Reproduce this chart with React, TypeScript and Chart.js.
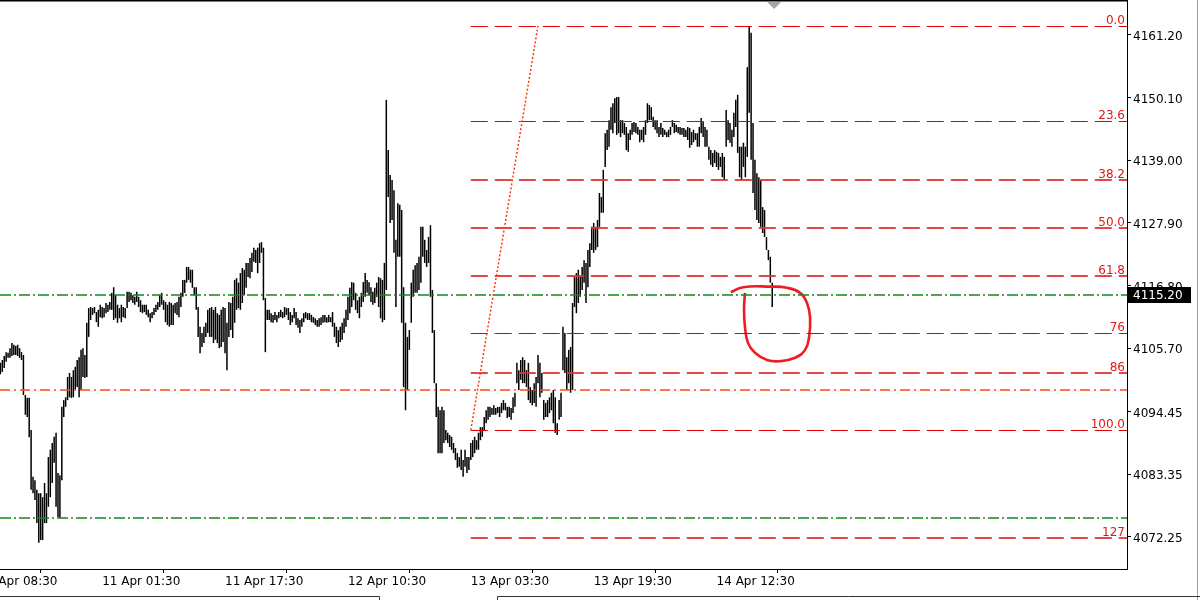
import React, { useEffect, useRef } from 'react';
import { Chart, registerables } from 'chart.js';

Chart.register(...registerables);

// ---- OHLC bars (M15), high and low of each bar ----
const barHighs = [
  4103.1, 4103.6, 4104.3, 4105.0, 4104.9, 4105.7, 4106.6, 4106.3, 4106.1, 4106.3,
  4105.7, 4105.0, 4104.5, 4097.4, 4096.9, 4096.9, 4091.2, 4082.9, 4082.3, 4080.6,
  4080.0, 4080.0, 4079.3, 4081.8, 4080.0, 4086.4, 4087.7, 4088.9, 4090.0, 4090.7,
  4083.6, 4083.2, 4095.3, 4096.5, 4097.0, 4100.6, 4101.3, 4100.6, 4101.8, 4102.4,
  4103.6, 4104.1, 4105.4, 4105.7, 4104.5, 4110.2, 4112.8, 4113.0, 4112.8, 4113.0,
  4112.1, 4112.5, 4113.4, 4113.0, 4112.8, 4113.7, 4113.4, 4113.9, 4115.5, 4116.5,
  4115.1, 4113.4, 4112.8, 4113.4, 4113.0, 4112.8, 4115.7, 4115.7, 4115.5, 4115.1,
  4114.8, 4115.7, 4114.8, 4114.2, 4113.4, 4113.4, 4113.4, 4112.5, 4111.9, 4112.1,
  4112.8, 4113.4, 4113.9, 4115.1, 4115.5, 4114.2, 4113.9, 4113.4, 4113.9, 4113.7,
  4113.4, 4113.7, 4113.9, 4114.8, 4115.5, 4117.8, 4117.8, 4120.1, 4120.1, 4119.6,
  4119.6, 4116.5, 4116.5, 4113.0,
  4109.5, 4108.4, 4109.5, 4110.2, 4112.5, 4112.8, 4113.0, 4112.5, 4113.0, 4111.9,
  4111.6, 4112.5, 4113.0, 4112.8, 4110.2, 4113.9, 4113.7, 4114.8, 4117.8, 4118.1,
  4117.3, 4119.0, 4119.9, 4119.6, 4120.8, 4120.8, 4121.7, 4122.6, 4123.5, 4123.1,
  4123.5, 4124.3, 4124.5, 4123.5, 4114.6, 4112.5, 4112.5, 4111.9, 4111.6, 4112.1,
  4111.6, 4112.1, 4112.5, 4112.1, 4113.0, 4112.8, 4112.8, 4112.1, 4111.6, 4112.8,
  4112.1, 4111.0, 4110.7, 4111.0, 4111.9, 4112.1, 4111.9, 4111.9, 4111.6, 4111.2,
  4111.0, 4110.7, 4111.0, 4111.2, 4111.6, 4111.6, 4111.2, 4111.6, 4111.2, 4112.1,
  4110.2, 4109.5, 4108.9, 4109.5, 4110.2, 4111.0, 4112.5, 4114.8, 4116.4, 4117.4,
  4117.3, 4115.5, 4114.2, 4114.8, 4115.5, 4117.4, 4119.0, 4117.8, 4117.4, 4116.5,
  4115.7, 4116.4, 4117.3, 4118.3, 4118.1, 4117.8,
  4120.8, 4149.7, 4140.8, 4136.4, 4135.5, 4133.7, 4124.9, 4131.4, 4131.1, 4130.2,
  4116.5, 4110.2, 4107.7, 4108.9, 4117.3, 4119.6, 4120.4, 4120.8, 4121.9, 4127.2,
  4127.2, 4124.9, 4123.1, 4125.4, 4127.5, 4116.0, 4108.9, 4099.5, 4095.3, 4094.7,
  4095.3, 4094.7, 4091.2, 4090.7, 4090.3, 4090.0, 4088.9, 4088.0, 4087.1, 4086.4,
  4087.7, 4085.9, 4087.7, 4086.4, 4086.4, 4088.9, 4089.4, 4090.0, 4089.4, 4090.7,
  4091.7, 4091.7, 4093.5, 4094.7, 4095.3, 4095.3, 4095.1, 4095.6, 4095.1, 4095.3,
  4095.3, 4096.0, 4096.5, 4096.0, 4095.3, 4095.3, 4095.1, 4097.0, 4097.8, 4103.1,
  4101.8, 4103.6, 4104.1, 4103.6, 4101.8, 4103.1, 4098.8, 4098.3, 4099.5, 4100.6,
  4104.5, 4103.1, 4101.3, 4096.5, 4096.0, 4096.5, 4097.0, 4097.8, 4098.3, 4097.0,
  4092.4, 4096.5, 4097.8, 4109.5, 4108.4, 4104.1, 4105.4, 4105.9, 4113.7, 4118.3,
  4119.0, 4119.6, 4118.3, 4120.1, 4121.3, 4120.8, 4123.1, 4124.3,
  4127.2, 4127.9, 4127.2, 4128.4, 4133.2, 4132.5, 4137.3, 4143.8, 4144.4, 4146.1,
  4148.4, 4149.1, 4150.0, 4150.2, 4150.2, 4146.1, 4146.1, 4145.6, 4144.9, 4143.8,
  4144.4, 4145.6, 4145.8, 4145.6, 4144.9, 4144.4, 4144.4, 4144.9, 4146.1, 4149.1,
  4148.8, 4148.4, 4146.7, 4146.1, 4146.1, 4144.9, 4145.6, 4144.7, 4144.4, 4144.0,
  4144.4, 4144.9, 4146.1, 4145.6, 4145.3, 4144.9, 4144.9, 4144.7, 4144.7, 4144.4,
  4144.9, 4144.7, 4144.0, 4144.4, 4143.8, 4143.8, 4144.9, 4146.5, 4145.8, 4144.9,
  4144.4, 4141.4, 4140.8, 4140.3, 4140.8, 4140.5, 4140.3, 4139.6, 4140.3, 4139.6,
  4147.9, 4146.1, 4145.6, 4144.4, 4147.4, 4149.7, 4150.6, 4141.4, 4141.4, 4142.1,
  4141.4, 4155.5, 4162.8, 4161.6, 4145.6, 4139.1, 4136.7, 4136.0, 4135.5, 4130.7,
  4130.2, 4125.4, 4123.1, 4121.9, 4117.3,
];

const barLows = [
  4101.1, 4101.5, 4102.2, 4103.3, 4104.0, 4104.0, 4104.3, 4104.5, 4104.5, 4104.3,
  4104.0, 4103.6, 4097.4, 4093.9, 4093.5, 4089.9, 4080.6, 4080.0, 4078.8, 4074.7,
  4071.2, 4071.7, 4071.7, 4074.7, 4074.7, 4077.6, 4079.3, 4081.8, 4085.4, 4077.6,
  4075.8, 4075.6, 4082.3, 4093.5, 4095.3, 4096.5, 4097.0, 4096.9, 4097.0, 4098.3,
  4098.8, 4097.0, 4098.3, 4100.6, 4100.4, 4100.6, 4107.7, 4110.7, 4111.6, 4111.9,
  4110.3, 4109.5, 4111.2, 4111.0, 4111.2, 4111.9, 4112.1, 4112.5, 4112.5, 4110.7,
  4111.0, 4110.2, 4111.0, 4110.3, 4111.2, 4111.0, 4112.8, 4113.9, 4114.2, 4113.7,
  4113.4, 4113.9, 4113.0, 4112.1, 4111.9, 4112.1, 4111.6, 4111.2, 4110.3, 4111.0,
  4111.6, 4112.1, 4112.5, 4113.0, 4113.4, 4112.5, 4110.3, 4109.8, 4109.5, 4109.8,
  4109.8, 4111.9, 4111.6, 4111.2, 4113.0, 4114.8, 4115.5, 4117.3, 4117.8, 4117.3,
  4116.4, 4115.1, 4112.5, 4107.7,
  4104.8, 4105.9, 4106.6, 4107.7, 4108.4, 4107.7, 4107.7, 4106.6, 4107.2, 4106.6,
  4105.7, 4105.9, 4106.8, 4104.8, 4101.8, 4107.7, 4108.9, 4107.5, 4110.2, 4112.5,
  4112.8, 4112.5, 4113.7, 4115.1, 4116.4, 4118.3, 4118.1, 4119.2, 4121.0, 4120.8,
  4119.0, 4120.8, 4122.6, 4114.2, 4105.0, 4110.7, 4110.7, 4110.3, 4110.2, 4110.7,
  4110.3, 4111.0, 4111.2, 4111.0, 4111.2, 4111.6, 4110.7, 4109.8, 4110.3, 4111.0,
  4109.8, 4109.3, 4108.4, 4109.5, 4110.3, 4111.0, 4110.7, 4110.7, 4110.3, 4110.2,
  4109.8, 4109.5, 4109.5, 4109.8, 4110.2, 4110.3, 4110.2, 4110.3, 4110.3, 4109.5,
  4107.7, 4106.6, 4105.9, 4106.8, 4107.2, 4108.4, 4109.5, 4110.7, 4111.9, 4113.0,
  4114.2, 4112.5, 4111.9, 4111.0, 4113.0, 4113.9, 4114.8, 4115.5, 4115.1, 4113.9,
  4113.4, 4113.7, 4114.8, 4113.0, 4111.0, 4110.3,
  4110.7, 4116.0, 4132.5, 4127.9, 4128.4, 4122.6, 4113.0, 4121.9, 4121.9, 4110.2,
  4098.8, 4094.7, 4098.3, 4105.4, 4110.2, 4114.8, 4115.5, 4115.5, 4116.0, 4117.3,
  4121.9, 4120.8, 4120.1, 4120.8, 4114.8, 4108.4, 4099.5, 4093.5, 4087.1, 4087.1,
  4087.1, 4088.9, 4089.4, 4088.9, 4088.2, 4087.7, 4087.1, 4085.9, 4084.5, 4084.7,
  4084.1, 4082.9, 4084.7, 4083.6, 4084.1, 4085.9, 4086.4, 4087.1, 4087.7, 4087.7,
  4089.4, 4090.0, 4091.2, 4092.4, 4093.0, 4093.5, 4093.9, 4093.9, 4093.9, 4094.2,
  4093.5, 4094.2, 4094.7, 4094.7, 4093.3, 4093.5, 4093.0, 4094.2, 4095.3, 4099.5,
  4098.3, 4100.1, 4099.5, 4099.5, 4098.8, 4096.5, 4096.0, 4095.6, 4096.0, 4095.3,
  4099.5, 4097.0, 4097.8, 4093.0, 4093.5, 4093.5, 4094.2, 4094.7, 4092.4, 4090.7,
  4090.3, 4093.0, 4093.5, 4101.8, 4101.3, 4098.3, 4099.5, 4097.8, 4098.3, 4113.0,
  4111.9, 4113.7, 4114.8, 4116.0, 4117.3, 4113.7, 4116.5, 4120.1,
  4123.1, 4122.6, 4123.1, 4123.6, 4127.2, 4129.7, 4129.7, 4137.8, 4140.8, 4141.4,
  4144.4, 4143.8, 4145.6, 4143.5, 4143.8, 4143.1, 4143.8, 4143.5, 4140.8, 4140.5,
  4142.6, 4143.5, 4144.0, 4143.8, 4143.5, 4142.2, 4142.6, 4142.2, 4143.5, 4145.6,
  4146.1, 4146.1, 4144.9, 4144.4, 4143.8, 4143.1, 4143.5, 4143.1, 4143.5, 4143.1,
  4143.1, 4143.5, 4144.9, 4143.8, 4144.0, 4143.8, 4143.5, 4143.5, 4143.1, 4143.1,
  4142.6, 4141.2, 4141.7, 4142.2, 4142.6, 4141.4, 4141.4, 4143.8, 4143.1, 4141.4,
  4141.4, 4139.1, 4138.2, 4137.8, 4138.5, 4137.8, 4137.3, 4137.8, 4136.0, 4135.5,
  4141.4, 4142.6, 4142.1, 4141.4, 4143.1, 4144.9, 4140.3, 4136.0, 4135.5, 4137.8,
  4136.0, 4139.6, 4147.4, 4139.1, 4133.2, 4130.2, 4128.4, 4127.9, 4127.2, 4126.1,
  4125.4, 4123.1, 4121.3, 4117.3, 4113.0,
];

// ---- axes ----
const xTickIndex = [-11, 53, 117, 181, 245, 309, 373];
const xTickLabels = ['10 Apr 08:30', '11 Apr 01:30', '11 Apr 17:30', '12 Apr 10:30', '13 Apr 03:30', '13 Apr 19:30', '14 Apr 12:30'];
const yTickValues = [4161.2, 4150.1, 4139.0, 4127.9, 4116.8, 4105.7, 4094.45, 4083.35, 4072.25];
const yTickLabels = ['4161.20', '4150.10', '4139.00', '4127.90', '4116.80', '4105.70', '4094.45', '4083.35', '4072.25'];
const xRange = [-0.2, 586.77];
const yRange = [4066.57, 4167.22];

// ---- Fibonacci retracement ----
const fibLabels = ['0.0', '23.6', '38.2', '50.0', '61.8', '76', '86', '100.0', '127'];
const fibPrices = [4162.8, 4145.9, 4135.5, 4127.0, 4118.5, 4108.4, 4101.3, 4091.2, 4072.1];
const fibHeavy = [false, false, true, true, true, false, true, false, true];
const fibStartIndex = 245;
const trendIndex = [245, 280];
const trendPrice = [4091.2, 4162.8];

// ---- horizontal lines & current price ----
const bidPrice = 4115.2;
const bidLabel = '4115.20';
const greenLevels = [4115.2, 4075.6];
const orangeLevels = [4098.3];
const shiftMarkerIndex = 403;

// ---- hand-drawn red circle (bar index, price) ----
const circleIdx = [380.4, 386.8, 400.8, 409.7, 416.5, 420.1, 421.7, 421.2, 419.1, 413.9, 406.1, 399.3, 393.0, 389.4, 387.8, 387.3, 387.8];
const circlePrice = [4115.6, 4116.5, 4116.6, 4116.4, 4115.5, 4113.7, 4111.2, 4107.7, 4105.4, 4104.0, 4103.4, 4103.6, 4104.9, 4106.6, 4109.5, 4112.5, 4115.5];

const FONT = '12px "DejaVu Sans"';

const overlayPlugin = {
  id: 'mtOverlay',
  afterDatasetsDraw(chart: any) {
    const { ctx, chartArea: ca, scales } = chart;
    const x = scales.x;
    const y = scales.y;
    ctx.save();
    ctx.beginPath();
    ctx.rect(ca.left, ca.top, ca.right - ca.left, ca.bottom - ca.top);
    ctx.clip();

    const hline = (price: number, color: string, width: number, dash: number[], x0: number) => {
      const py = Math.round(y.getPixelForValue(price)) + (width % 2 === 1 ? 0.5 : 0);
      ctx.beginPath();
      ctx.setLineDash(dash);
      ctx.strokeStyle = color;
      ctx.lineWidth = width;
      ctx.moveTo(x0, py);
      ctx.lineTo(ca.right, py);
      ctx.stroke();
    };

    greenLevels.forEach((p) => hline(p, '#128a12', 1.5, [11, 3, 2, 3], ca.left));
    orangeLevels.forEach((p) => hline(p, '#ff4a14', 1.5, [10, 4, 2, 4], ca.left));

    const fx = x.getPixelForValue(fibStartIndex);
    fibPrices.forEach((p, i) => {
      if (fibHeavy[i]) hline(p, 'rgba(222,52,52,0.9)', 2, [17, 7], fx);
      else hline(p, '#e00000', 1, [17, 7], fx);
    });

    // trend line of the fibo
    ctx.beginPath();
    ctx.setLineDash([2, 2]);
    ctx.strokeStyle = '#ff3a10';
    ctx.lineWidth = 1.5;
    ctx.moveTo(x.getPixelForValue(trendIndex[0]), y.getPixelForValue(trendPrice[0]));
    ctx.lineTo(x.getPixelForValue(trendIndex[1]), y.getPixelForValue(trendPrice[1]));
    ctx.stroke();
    ctx.setLineDash([]);

    // fibo level labels
    ctx.font = FONT;
    ctx.fillStyle = '#e01818';
    ctx.textAlign = 'right';
    ctx.textBaseline = 'alphabetic';
    fibPrices.forEach((p, i) => {
      const py = Math.round(y.getPixelForValue(p));
      ctx.fillText(fibLabels[i], ca.right - 2, py - 2);
    });
    ctx.restore();
  },
  afterDraw(chart: any) {
    const { ctx, chartArea: ca, scales } = chart;
    const x = scales.x;
    const y = scales.y;
    ctx.save();
    // top border of the plot
    ctx.fillStyle = '#000';
    ctx.fillRect(0, 0, ca.right + 1, 1.5);

    // chart shift marker
    const mx = x.getPixelForValue(shiftMarkerIndex);
    ctx.fillStyle = '#a6a6a6';
    ctx.beginPath();
    ctx.moveTo(mx - 7, 2);
    ctx.lineTo(mx + 7, 2);
    ctx.lineTo(mx, 9);
    ctx.closePath();
    ctx.fill();

    // current price box
    const by = Math.round(y.getPixelForValue(bidPrice));
    ctx.fillStyle = '#000';
    ctx.fillRect(ca.right + 1, by - 8, 63, 16);
    ctx.fillStyle = '#fff';
    ctx.font = FONT;
    ctx.textAlign = 'left';
    ctx.textBaseline = 'middle';
    ctx.fillText(bidLabel, ca.right + 6, by + 1);

    // window edge and bottom tabs
    ctx.strokeStyle = '#a0a0a0';
    ctx.lineWidth = 1;
    ctx.beginPath();
    ctx.moveTo(1197.5, 0);
    ctx.lineTo(1197.5, 600);
    ctx.stroke();
    ctx.strokeStyle = '#333';
    ctx.beginPath();
    ctx.moveTo(0, 596.5);
    ctx.lineTo(379.5, 596.5);
    ctx.lineTo(379.5, 600);
    ctx.moveTo(497.5, 600);
    ctx.lineTo(497.5, 596.5);
    ctx.lineTo(1200, 596.5);
    ctx.stroke();
    ctx.restore();
  },
};

export default function App() {
  const ref = useRef<HTMLCanvasElement | null>(null);

  useEffect(() => {
    const canvas = ref.current;
    if (!canvas) return;
    const bars = barHighs.map((h, i) => ({ x: i, y: [barLows[i], h] }));
    const circle = circleIdx.map((v, i) => ({ x: v, y: circlePrice[i] }));
    const tickFont = { family: 'DejaVu Sans', size: 12 };

    const chart = new Chart(canvas, {
      type: 'bar',
      data: {
        datasets: [
          {
            type: 'bar',
            data: bars as any,
            backgroundColor: '#000',
            borderWidth: 0,
            barThickness: 1.5,
            grouped: false,
            inflateAmount: 0,
            order: 2,
          } as any,
          {
            type: 'line',
            data: circle as any,
            borderColor: '#ee1c24',
            borderWidth: 2.6,
            pointRadius: 0,
            tension: 0.45,
            fill: false,
            order: 1,
          } as any,
        ],
      },
      options: {
        animation: false,
        responsive: false,
        devicePixelRatio: 1,
        events: [],
        layout: { padding: { top: 1, left: 0, right: 0, bottom: 0 } },
        plugins: { legend: { display: false }, tooltip: { enabled: false } },
        scales: {
          x: {
            type: 'linear',
            min: xRange[0],
            max: xRange[1],
            offset: false,
            bounds: 'data',
            grid: { display: true, drawOnChartArea: false, drawTicks: true, tickLength: 4, color: '#000' },
            border: { display: true, color: '#000', width: 1 },
            ticks: {
              autoSkip: false,
              maxRotation: 0,
              minRotation: 0,
              align: 'start',
              padding: 2,
              color: '#000',
              font: tickFont,
              callback: (_v: any, i: number) => xTickLabels[i] ?? '',
            },
            afterBuildTicks: (s: any) => {
              s.ticks = xTickIndex.map((v) => ({ value: v }));
            },
            afterFit: (s: any) => {
              s.height = 31;
              s.paddingLeft = 0;
              s.paddingRight = 0;
            },
          } as any,
          y: {
            type: 'linear',
            position: 'right',
            min: yRange[0],
            max: yRange[1],
            bounds: 'data',
            grid: { display: true, drawOnChartArea: false, drawTicks: true, tickLength: 4, color: '#000' },
            border: { display: true, color: '#000', width: 1 },
            ticks: {
              autoSkip: false,
              padding: 2,
              labelOffset: 2,
              crossAlign: 'near',
              color: '#000',
              font: tickFont,
              callback: (_v: any, i: number) => yTickLabels[i] ?? '',
            },
            afterBuildTicks: (s: any) => {
              s.ticks = yTickValues.map((v) => ({ value: v }));
            },
            afterFit: (s: any) => {
              s.width = 73;
              s.paddingTop = 0;
              s.paddingBottom = 0;
            },
          } as any,
        },
      },
      plugins: [overlayPlugin],
    } as any);

    return () => chart.destroy();
  }, []);

  return (
    <div style={{ position: 'fixed', left: 0, top: 0, width: 1200, height: 600, background: '#fff' }}>
      <canvas ref={ref} width={1200} height={600} style={{ display: 'block', width: 1200, height: 600 }} />
    </div>
  );
}
